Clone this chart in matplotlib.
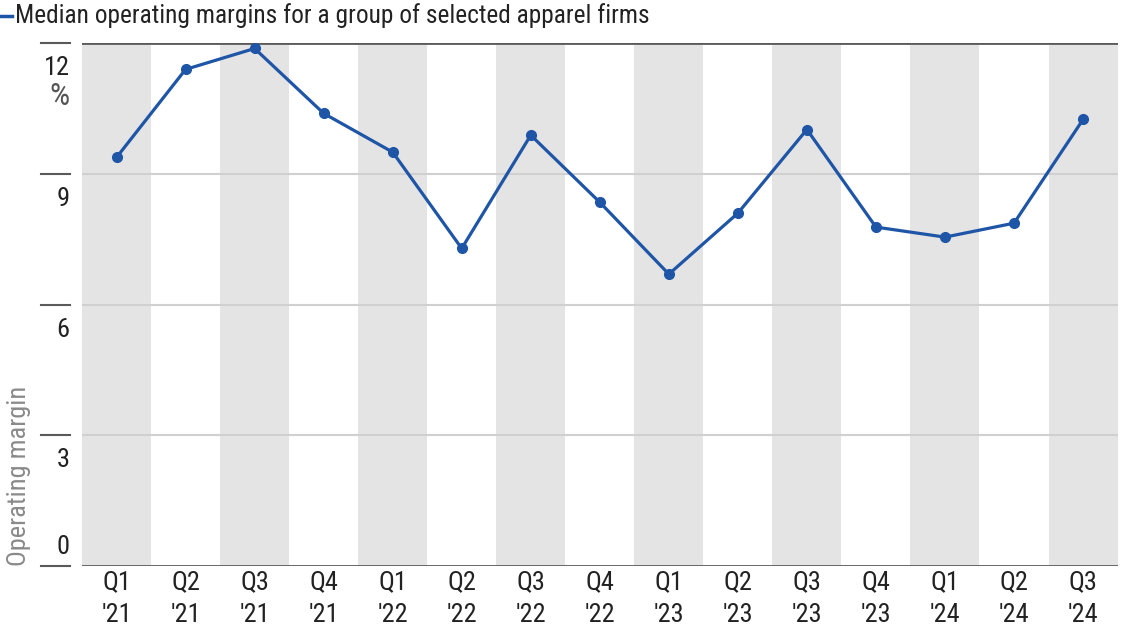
import matplotlib.pyplot as plt
from matplotlib.lines import Line2D

plt.rcParams['font.family'] = ['Roboto Condensed', 'Archivo Narrow', 'DejaVu Sans']

quarters = ["Q1\n'21", "Q2\n'21", "Q3\n'21", "Q4\n'21", "Q1\n'22", "Q2\n'22", "Q3\n'22",
            "Q4\n'22", "Q1\n'23", "Q2\n'23", "Q3\n'23", "Q4\n'23", "Q1\n'24", "Q2\n'24", "Q3\n'24"]
margins = [9.38, 11.40, 11.88, 10.39, 9.50, 7.29, 9.89, 8.35, 6.70, 8.10, 10.02, 7.78, 7.55, 7.87, 10.25]
yticks = [0, 3, 6, 9, 12]

blue = "#1f55a6"
fs = 19
fig = plt.figure(figsize=(11.3, 6.36), dpi=100)
ax = fig.add_axes([0.0726, 0.110, 0.9164, 0.822])

x = list(range(len(quarters)))
for i in x:
    if i % 2 == 0:
        ax.axvspan(i - 0.5, i + 0.5, color="#e4e4e4", lw=0, zorder=0)

for t in yticks:
    if t in (0, 12):
        ax.axhline(t, color="#5a5a5a", lw=2, zorder=1)
    else:
        ax.axhline(t, color="#d0d0d0", lw=1.5, zorder=1)
    # short tick mark left of the plot
    ax.add_line(Line2D([-0.04, -0.012], [t, t], transform=ax.get_yaxis_transform(),
                       color="#5a5a5a", lw=1.5, clip_on=False))
    if t == 0:
        ax.text(-0.012, t + 0.16, str(t), transform=ax.get_yaxis_transform(),
                ha="right", va="bottom", fontsize=fs, color="#222222")
    else:
        ax.text(-0.012, t - 0.3, str(t), transform=ax.get_yaxis_transform(),
                ha="right", va="top", fontsize=fs, color="#222222")
ax.text(-0.012, 11.1, "%", transform=ax.get_yaxis_transform(),
        ha="right", va="top", fontsize=23, color="#555555")

ax.plot(x, margins, color=blue, lw=2.3, marker="o", ms=7, zorder=3, clip_on=False)

ax.set_xlim(-0.5, len(quarters) - 0.5)
ax.set_ylim(0, 12)
ax.set_xticks(x)
ax.set_xticklabels(quarters, fontsize=fs, color="#222222", linespacing=1.45)
ax.tick_params(axis="x", length=0, pad=3)
ax.set_yticks([])
for s in ax.spines.values():
    s.set_visible(False)

fig.text(0.006, 0.110, "Operating margin", rotation=90, ha="left", va="bottom",
         fontsize=fs, color="#8a8a8a")

fig.add_artist(Line2D([0.001, 0.011], [0.975, 0.975], color=blue, lw=2.5))
fig.text(0.013, 0.975, "Median operating margins for a group of selected apparel firms",
         ha="left", va="center", fontsize=18.3, color="#222222")

fig.savefig("out.png", dpi=100)
